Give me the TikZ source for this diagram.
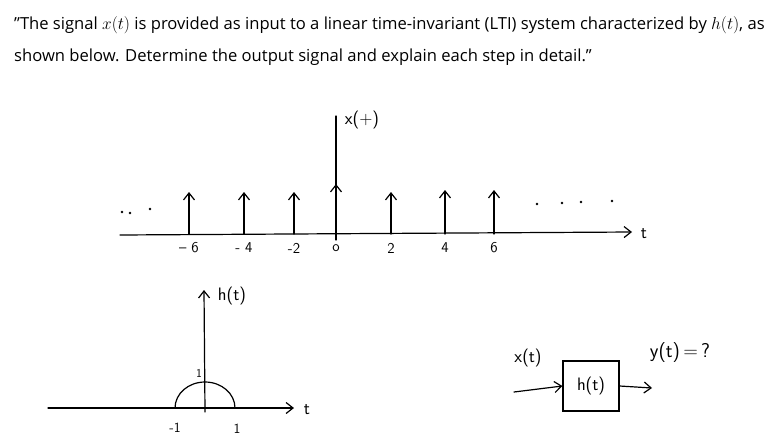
\documentclass[tikz,border=0pt]{standalone}
\usepackage{fontspec}
\setmainfont{Open Sans}
\usetikzlibrary{arrows.meta}
\begin{document}
\begin{tikzpicture}[x=1pt,y=-1pt,
  ln/.style={line width=1.2pt,line cap=round},
  arr/.style={ln,-{Straight Barb[length=7pt,width=11pt]}},
  hand/.style={font=\sffamily\fontsize{18}{20}\selectfont,inner sep=0pt},
  txt/.style={font=\fontsize{16.6}{19}\selectfont,anchor=west,inner sep=0pt}]
\useasboundingbox (0,0) rectangle (783,436);
\node[txt] (l1) at (14,25) {"The signal $x(t)$ is provided as input to a linear time-invariant (LTI) system characterized by $h(t)$, as};
\node[txt] (l2) at (14,57) {shown below. Determine the output signal and explain each step in detail."};
% top plot
\coordinate (a0) at (120,235); \coordinate (a1) at (632,232);
\draw[arr] (a0) -- (a1);
\node[hand] (tt) at (644,234) {t};
\coordinate (v0) at (336,240); \coordinate (v1) at (336,116);
\draw[ln] (v0) -- (v1);
\node[hand] (xl) at (362,120) {x(+)};
\foreach \x/\t/\lab in {189/192/{– 6},244/192/{- 4},294/192/{-2},336/184/{o},391/192/2,445/190/4,494/190/6}{
  \coordinate (b\x) at (\x,234); \coordinate (e\x) at (\x,\t);
  \draw[arr] (b\x) -- (e\x);
  \node[hand,font=\sffamily\fontsize{15}{17}\selectfont] (n\x) at (\x,248) {\lab};
}
\foreach \x/\y in {122/212,130/213,150/209,537/204,562/203,581/202,612/201}
  \fill (\x,\y) circle (1.4pt);
% bottom plot
\coordinate (c0) at (48,408); \coordinate (c1) at (294,408);
\draw[arr] (c0) -- (c1);
\node[hand] (tb) at (307,410) {t};
\coordinate (w0) at (205,412); \coordinate (w1) at (204,290);
\draw[arr] (w0) -- (w1);
\node[hand] (hl) at (232,296) {h(t)};
\draw[ln] (175,408) arc[start angle=180,end angle=360,x radius=30,y radius=26];
\node[hand,font=\sffamily\fontsize{12}{14}\selectfont] (one) at (199,373) {1};
\node[hand,font=\sffamily\fontsize{14}{16}\selectfont] (m1) at (175,428) {-1};
\node[hand,font=\sffamily\fontsize{14}{16}\selectfont] (p1) at (237,429) {1};
% block
\node[draw,ln,minimum width=56pt,minimum height=50pt,hand] (H) at (591,386) {h(t)};
\coordinate (in) at (514,392);
\draw[arr] (in) -- (H.west);
\coordinate (out) at (652,388);
\draw[arr] (H.east) -- (out);
\node[hand] (xin) at (528,358) {x(t)};
\node[hand,font=\sffamily\fontsize{20}{22}\selectfont] (yo) at (680,353) {y(t)\,=\,?};
\end{tikzpicture}
\end{document}
